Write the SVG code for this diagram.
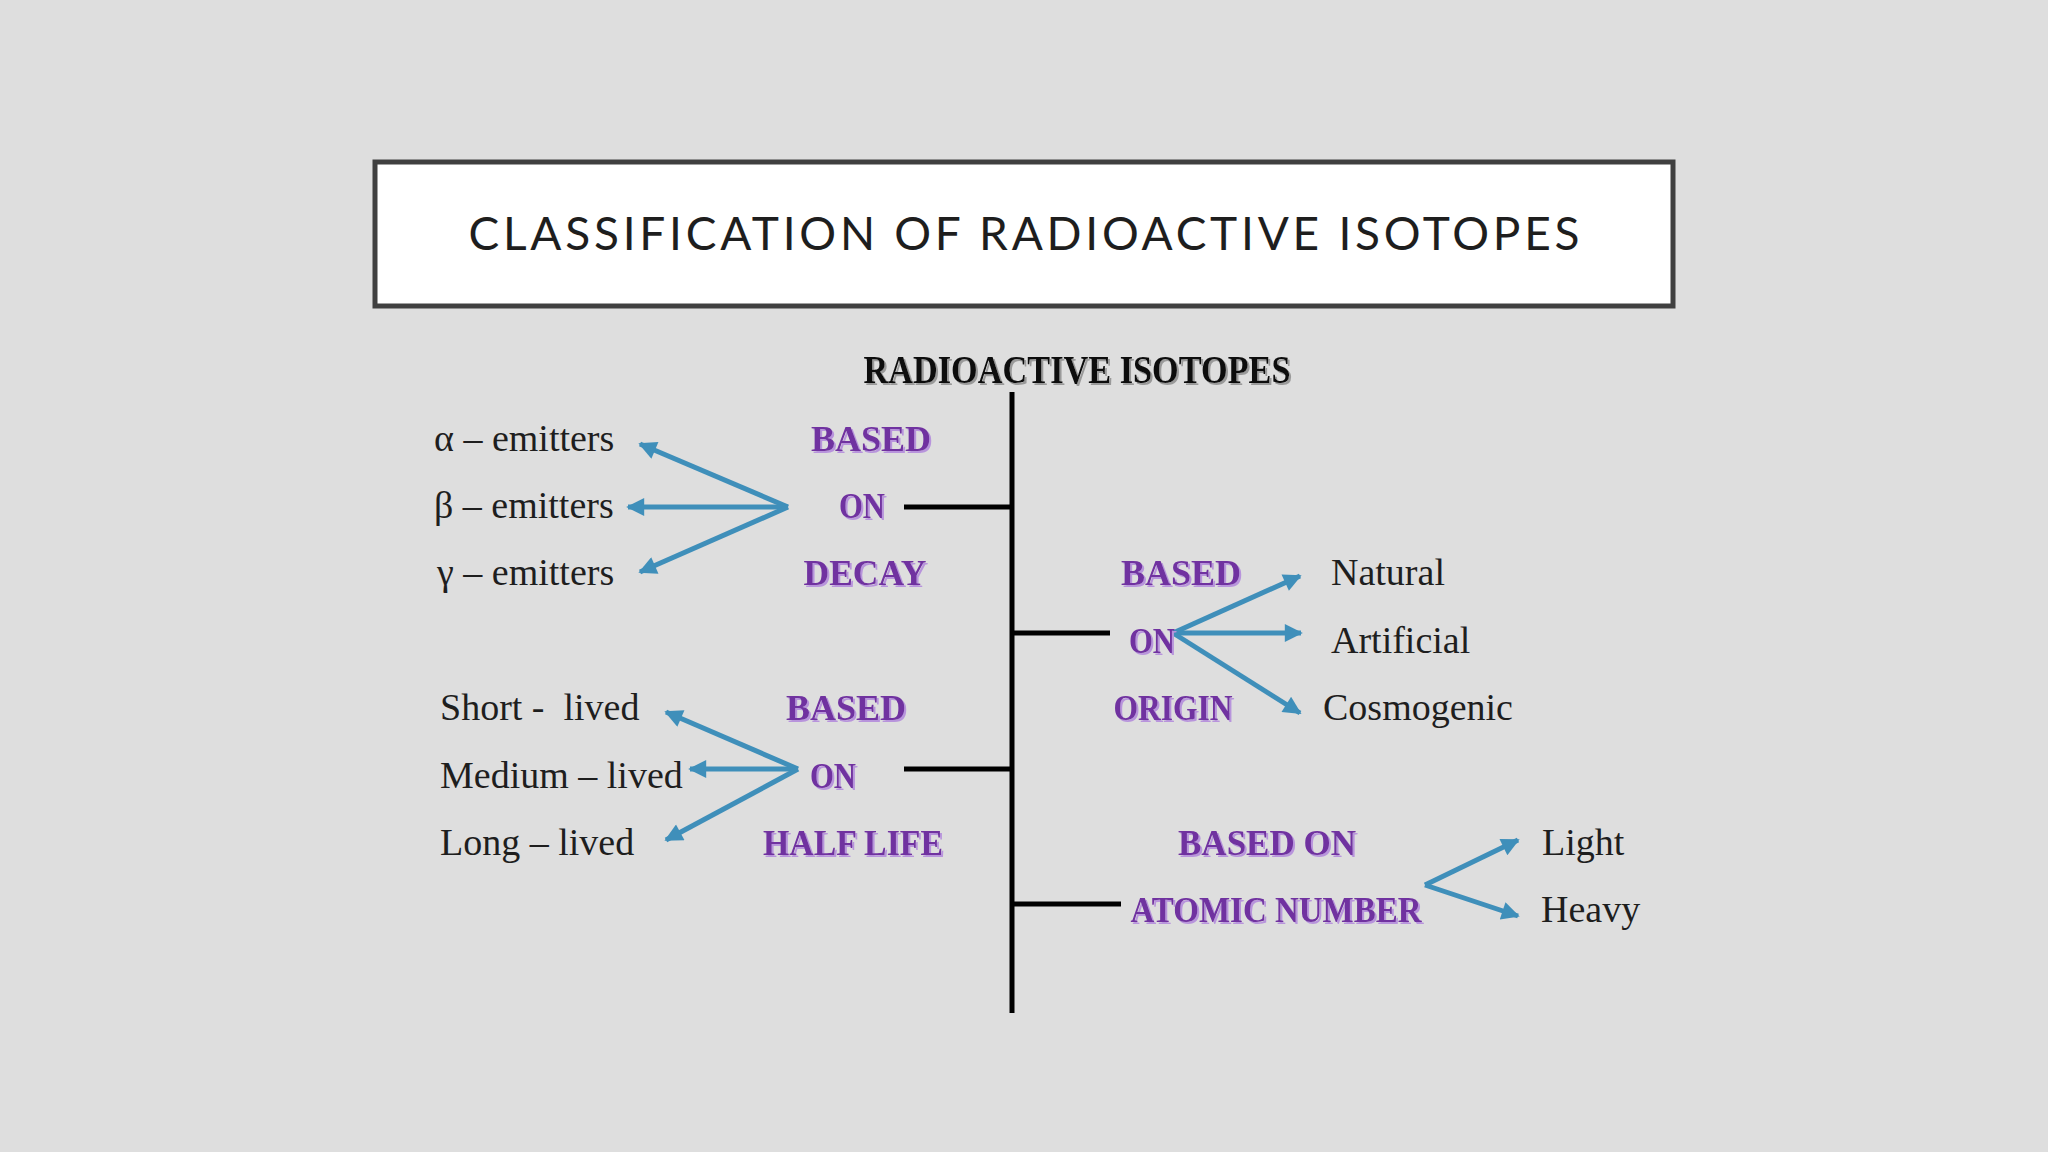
<svg xmlns="http://www.w3.org/2000/svg" width="2048" height="1152" viewBox="0 0 2048 1152">
<style>
.bg{fill:#dedede}
.title{font-family:Lato,"Open Sans",sans-serif;font-size:46px;fill:#1e1e1e}
.head{font-family:"Liberation Serif",serif;font-weight:bold;font-size:40px;fill:#111;filter:url(#gs)}
.p{font-family:"Liberation Serif",serif;font-weight:bold;font-size:36px;fill:#7030a0;filter:url(#ps)}
.t{font-family:"Liberation Serif","Times New Roman",serif;font-size:38px;fill:#1e1e1e}
.tree{stroke:#000;stroke-width:5;fill:none}
.arr{stroke:#3f8fba;stroke-width:5;fill:none;marker-end:url(#ah)}
</style>
<defs>
<marker id="ah" viewBox="0 0 10 10" refX="9" refY="5" markerUnits="userSpaceOnUse" markerWidth="20" markerHeight="18" orient="auto">
<path d="M0,0 L10,5 L0,10 Z" fill="#3f8fba"/>
</marker>
<filter id="ps" x="-10%" y="-20%" width="130%" height="150%">
<feDropShadow dx="2" dy="2" stdDeviation="0" flood-color="#b894dc"/>
</filter>
<filter id="gs" x="-10%" y="-20%" width="130%" height="150%">
<feDropShadow dx="2" dy="2" stdDeviation="0" flood-color="#9a9a9a"/>
</filter>
</defs>
<rect class="bg" x="0" y="0" width="2048" height="1152"/>
<g id="title">
<rect x="375" y="162" width="1298" height="144" fill="#fff" stroke="#404040" stroke-width="5"/>
<text class="title" x="1024" y="250" text-anchor="middle" textLength="1111" lengthAdjust="spacing">CLASSIFICATION OF RADIOACTIVE ISOTOPES</text>
</g>
<g id="connectors">
<line class="tree" x1="1012" y1="392" x2="1012" y2="1013"/>
<line class="tree" x1="904" y1="507" x2="1012" y2="507"/>
<line class="tree" x1="904" y1="769" x2="1012" y2="769"/>
<line class="tree" x1="1012" y1="633" x2="1110" y2="633"/>
<line class="tree" x1="1012" y1="904" x2="1121" y2="904"/>
<line class="arr" x1="788" y1="507" x2="640" y2="444"/>
<line class="arr" x1="788" y1="507" x2="628" y2="507"/>
<line class="arr" x1="788" y1="507" x2="640" y2="572"/>
<line class="arr" x1="798" y1="769" x2="666" y2="712"/>
<line class="arr" x1="798" y1="769" x2="690" y2="769"/>
<line class="arr" x1="798" y1="769" x2="666" y2="840"/>
<line class="arr" x1="1173" y1="633" x2="1300" y2="576"/>
<line class="arr" x1="1173" y1="633" x2="1301" y2="633"/>
<line class="arr" x1="1173" y1="633" x2="1300" y2="713"/>
<line class="arr" x1="1425" y1="885" x2="1518" y2="840"/>
<line class="arr" x1="1425" y1="885" x2="1518" y2="916"/>
</g>
<g id="root">
<text class="head" x="1077" y="383" text-anchor="middle" textLength="427" lengthAdjust="spacingAndGlyphs">RADIOACTIVE ISOTOPES</text>
</g>
<g id="decay">
<text class="p" x="871" y="451" text-anchor="middle" textLength="120" lengthAdjust="spacingAndGlyphs">BASED</text>
<text class="p" x="862" y="518" text-anchor="middle" textLength="46" lengthAdjust="spacingAndGlyphs">ON</text>
<text class="p" x="865" y="585" text-anchor="middle" textLength="123" lengthAdjust="spacingAndGlyphs">DECAY</text>
</g>
<g id="decay-items">
<text class="t" x="434" y="451">α – emitters</text>
<text class="t" x="434" y="518">β – emitters</text>
<text class="t" x="437" y="585">γ – emitters</text>
</g>
<g id="halflife">
<text class="p" x="846" y="720" text-anchor="middle" textLength="120" lengthAdjust="spacingAndGlyphs">BASED</text>
<text class="p" x="833" y="788" text-anchor="middle" textLength="46" lengthAdjust="spacingAndGlyphs">ON</text>
<text class="p" x="853" y="855" text-anchor="middle" textLength="180" lengthAdjust="spacingAndGlyphs">HALF LIFE</text>
</g>
<g id="halflife-items">
<text class="t" x="440" y="720" xml:space="preserve">Short -  lived</text>
<text class="t" x="440" y="788">Medium – lived</text>
<text class="t" x="440" y="855">Long – lived</text>
</g>
<g id="origin">
<text class="p" x="1181" y="585" text-anchor="middle" textLength="120" lengthAdjust="spacingAndGlyphs">BASED</text>
<text class="p" x="1152" y="653" text-anchor="middle" textLength="46" lengthAdjust="spacingAndGlyphs">ON</text>
<text class="p" x="1173" y="720" text-anchor="middle" textLength="119" lengthAdjust="spacingAndGlyphs">ORIGIN</text>
</g>
<g id="origin-items">
<text class="t" x="1331" y="585">Natural</text>
<text class="t" x="1331" y="653">Artificial</text>
<text class="t" x="1323" y="720">Cosmogenic</text>
</g>
<g id="atomic">
<text class="p" x="1267" y="855" text-anchor="middle" textLength="178" lengthAdjust="spacingAndGlyphs">BASED ON</text>
<text class="p" x="1276" y="922" text-anchor="middle" textLength="291" lengthAdjust="spacingAndGlyphs">ATOMIC NUMBER</text>
</g>
<g id="atomic-items">
<text class="t" x="1542" y="855">Light</text>
<text class="t" x="1541" y="922">Heavy</text>
</g>
</svg>
